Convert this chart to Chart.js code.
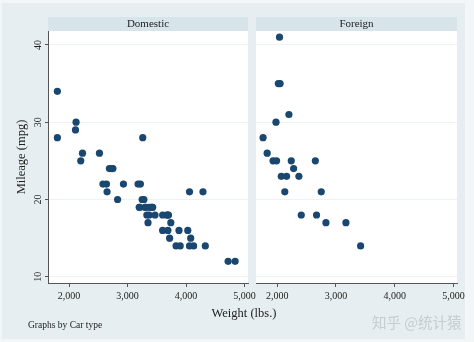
<!DOCTYPE html>
<html><head><meta charset="utf-8">
<script src="https://cdn.jsdelivr.net/npm/chart.js@4/dist/chart.umd.min.js"></script>
<style>
html,body{margin:0;padding:0;width:474px;height:342px;overflow:hidden;background:#f3f6f7;}
#frame{position:absolute;left:2px;top:3px;width:463px;height:336px;background:#e7eef1;}
canvas{position:absolute;top:0;}
.txt{position:absolute;font-family:"Liberation Serif","DejaVu Serif",serif;color:#222;white-space:nowrap;}
</style></head><body>
<div id="frame"></div>
<canvas id="c1" width="262" height="342" style="left:0px"></canvas>
<canvas id="c2" width="218" height="342" style="left:256px"></canvas>
<div class="txt" style="left:244px;top:305px;font-size:12.5px;line-height:16px;transform:translateX(-50%)">Weight (lbs.)</div>
<div class="txt" style="left:28px;top:319px;font-size:9.5px;line-height:12px">Graphs by Car type</div>
<div style="position:absolute;left:372px;top:312px;font-family:'Noto Sans CJK SC',sans-serif;font-size:14.5px;line-height:20px;color:#c6ccd0;white-space:nowrap">知乎 @统计猿</div>
<script>
const panels = ['Domestic', 'Foreign'];
const domesticWeight = [2930,3350,2640,3250,4080,3670,2230,3280,3880,3400,4330,3900,4290,2110,3690,3180,3220,2750,3430,2120,3600,3600,3740,1800,2650,4840,4720,3830,2580,4060,3720,3370,4130,2830,4060,3310,3300,3690,3370,2730,4030,3260,1800,2200,2520,3330,3700,3470,3210,3200,3420,2690];
const domesticMpg = [22,17,22,20,15,18,26,20,16,19,14,14,21,29,16,22,22,24,19,30,18,16,17,28,21,12,12,14,22,14,15,18,14,20,21,19,19,18,19,24,16,28,34,25,26,18,18,18,19,19,19,24];
const foreignWeight = [2830,2070,2650,2370,2020,2280,2750,2130,2240,1760,1980,3420,1830,2050,2410,2200,2670,2160,2040,1930,1990,3170];
const foreignMpg = [17,23,25,23,35,24,21,21,25,28,30,14,26,35,18,31,18,23,41,25,25,17];
const xTicks = [2000, 3000, 4000, 5000];
const yTicks = [10, 20, 30, 40];

const SERIF = '"Liberation Serif","DejaVu Serif",serif';
const bgPlugin = {
  id: 'panelBg',
  beforeDraw(chart) {
    const {ctx, chartArea: a} = chart;
    ctx.save();
    ctx.fillStyle = '#d7e4ea';
    ctx.fillRect(a.left, 17, a.right - a.left, 14);
    ctx.fillStyle = '#ffffff';
    ctx.fillRect(a.left, a.top, a.right - a.left, a.bottom - a.top);
    ctx.restore();
  }
};

function makePanel(id, label, weights, mpgs, showY, padRight) {
  const pts = weights.map((w, i) => ({x: w, y: mpgs[i]}));
  return new Chart(document.getElementById(id), {
    type: 'scatter',
    data: {datasets: [{data: pts, pointRadius: 3.6, pointBorderWidth: 0,
      pointBackgroundColor: '#1a476f', borderColor: '#1a476f'}]},
    options: {
      responsive: false, animation: false, clip: false,
      layout: {autoPadding: false, padding: {left: 0, right: padRight, top: 17, bottom: 0}},
      plugins: {
        legend: {display: false}, tooltip: {enabled: false},
        title: {display: true, text: label, fullSize: false, color: '#222',
          font: {family: SERIF, size: 11, lineHeight: 1, weight: 'normal'},
          padding: {top: 1.5, bottom: 1.5}}
      },
      scales: {
        x: {type: 'linear', min: 1640, max: 5060,
          afterBuildTicks: s => { s.ticks = xTicks.map(v => ({value: v})); },
          afterFit: s => { s.height = 59; s.paddingLeft = 0; s.paddingRight = 0; },
          grid: {drawOnChartArea: false, drawTicks: true, tickLength: 4, tickColor: '#555'},
          border: {display: true, color: '#555', width: 1},
          ticks: {font: {family: SERIF, size: 10}, color: '#222', padding: 3,
            maxRotation: 0, minRotation: 0, callback: v => v.toLocaleString('en-US')}},
        y: {type: 'linear', min: 9.2, max: 41.8,
          afterBuildTicks: s => { s.ticks = yTicks.map(v => ({value: v})); },
          afterFit: s => { s.width = showY ? 48 : 0; s.paddingTop = 0; s.paddingBottom = 0; },
          grid: {color: '#edf2f4', lineWidth: 1, drawTicks: showY, tickLength: 3, tickColor: '#555'},
          border: {display: showY, color: '#555', width: 1},
          ticks: {display: showY, font: {family: SERIF, size: 10}, color: '#222', padding: 2,
            minRotation: 90, maxRotation: 90, crossAlign: 'center'},
          title: {display: showY, text: 'Mileage (mpg)', color: '#222',
            font: {family: SERIF, size: 12.5}, padding: {top: 14, bottom: 0}}}
      }
    },
    plugins: [bgPlugin]
  });
}
makePanel('c1', panels[0], domesticWeight, domesticMpg, true, 14);
makePanel('c2', panels[1], foreignWeight, foreignMpg, false, 17);
</script>
</body></html>
